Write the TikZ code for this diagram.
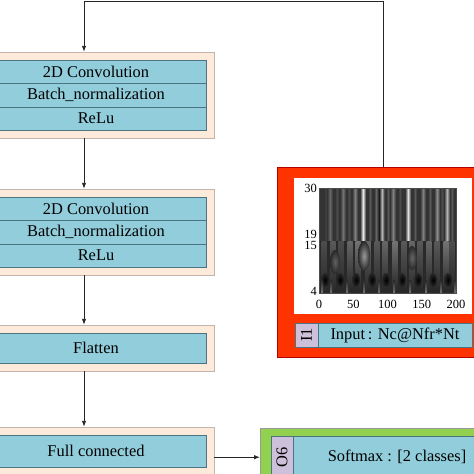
\documentclass[tikz,border=0pt]{standalone}
\usepackage{fontspec}
\setmainfont{Liberation Serif}
\usetikzlibrary{arrows.meta, positioning, fit, backgrounds}

\definecolor{peach}{HTML}{FDEADA}
\definecolor{peachline}{HTML}{C4B6AC}
\definecolor{cellblue}{HTML}{92CDDC}
\definecolor{cellline}{HTML}{4C7480}
\definecolor{lilac}{HTML}{CCC0DA}
\definecolor{inred}{HTML}{FF3300}
\definecolor{outgreen}{HTML}{92D050}

\begin{document}
\begin{tikzpicture}[
    x=1pt, y=-1pt,
    layer/.style={rectangle, draw=cellline, fill=cellblue, minimum width=220pt, minimum height=23.4pt, inner sep=0pt, outer sep=0pt, font=\fontsize{16.4}{18}\selectfont},
    block/.style={rectangle, draw=peachline, fill=peach, inner sep=8pt},
    tag/.style={rectangle, draw=cellline, fill=lilac, inner sep=0pt, outer sep=0pt, font=\fontsize{16.4}{18}\selectfont},
    axlab/.style={inner sep=0pt, font=\fontsize{12.5}{14}\selectfont},
    link/.style={-{Latex[length=6pt, width=4.5pt]}, black!85, line width=0.9pt},
]
\useasboundingbox (0,0) rectangle (474,474);
\clip (0,0) rectangle (474,474);

% Layers on the left
\node[layer] (conv1a) at (96,71.7) {2D Convolution};
\node[layer, below=0pt of conv1a] (conv1b) {Batch\_normalization};
\node[layer, below=0pt of conv1b] (conv1c) {ReLu};

\node[layer] (conv2a) at (96,208.7) {2D Convolution};
\node[layer, below=0pt of conv2a] (conv2b) {Batch\_normalization};
\node[layer, below=0pt of conv2b] (conv2c) {ReLu};

\node[layer, minimum height=30pt] (flat) at (96,348) {Flatten};
\node[layer, minimum height=32pt] (fc) at (96,451) {Full connected};

\begin{scope}[on background layer]
\node[block, fit=(conv1a)(conv1c)] (blk1) {};
\node[block, fit=(conv2a)(conv2c)] (blk2) {};
\node[block, fit=(flat)] (blk3) {};
\node[block, fit=(fc)] (blk4) {};
\end{scope}

% Input frame
\node[rectangle, draw=red!70!black, fill=inred, minimum width=212pt, minimum height=190pt] (input) at (383,262) {};
\node[rectangle, fill=white, minimum width=178pt, minimum height=136pt] (panel) at (383,246) {};
\node[tag, minimum width=23pt, minimum height=24pt] (tagin) at (306.5,335) {\rotatebox{90}{I1}};
\node[layer, minimum width=154pt, minimum height=24pt, anchor=west] (inrow) at (tagin.east) {Input\,: Nc@Nfr*Nt};

% Spectrogram
\fill[black!80] (319,188) rectangle (456,241);
\foreach \x/\g/\w in {326/25/2, 330/40/3, 337/30/2, 343/45/3, 349/30/2, 355/50/3, 363/92/3, 370/35/2,
                      376/40/2, 382/72/2.5, 388/35/2, 393/50/3, 400/30/2, 408/88/3, 415/35/2,
                      423/50/3, 430/35/2, 437/55/3, 442/30/2, 447/70/3, 452/35/2}
  \shade[left color=black!80, right color=black!80, middle color=white!\g!black] (\x-\w,188) rectangle (\x+\w,241);
\fill[black!84] (319,241) rectangle (456,293);
\foreach \x/\g in {324/30, 333/35, 341/30, 350/40, 358/45, 368/40, 377/35, 385/40, 395/45,
                   404/35, 412/40, 420/35, 429/40, 437/35, 446/45, 452/30}
  \shade[top color=white!\g!black, bottom color=black!84] (\x-2.5,241) rectangle (\x+2.5,290);
\shade[inner color=white!60!black, outer color=black!84] (364,256) ellipse (6 and 15);
\shade[inner color=white!40!black, outer color=black!84] (412,258) ellipse (5 and 12);
\shade[inner color=white!38!black, outer color=black!84] (335,262) ellipse (5 and 12);
\foreach \x in {325, 340, 356, 372, 386, 402, 418, 433, 448}
  \shade[inner color=black, outer color=black!84] (\x,280) ellipse (4 and 7);
\foreach \x in {322, 331, 347, 364, 379, 394, 410, 426, 441, 455}
  \shade[top color=black!84, bottom color=white!45!black] (\x-1,280) rectangle (\x+1,293);
\draw[black!70, line width=0.5pt] (319,188) rectangle (456,293);

% Axis labels
\foreach \v in {0,50,100,150,200}
  \node[axlab, anchor=north] (tx\v) at (319+0.685*\v,300) {\v};
\foreach \v/\y in {30/188, 19/234, 15/245, 4/291}
  \node[axlab, anchor=east] (ty\v) at (317,\y) {\v};

% Output frame
\node[rectangle, draw=black!40, fill=outgreen, minimum width=252pt, minimum height=58pt, anchor=north west] (output) at (260,428) {};
\node[tag, minimum width=22pt, minimum height=42pt, anchor=north west] (tagout) at (271,436) {\rotatebox{90}{O6}};
\node[layer, minimum width=208pt, minimum height=42pt, anchor=west] (outrow) at (tagout.east) {Softmax : [2 classes]};

% Arrows
\coordinate (turn) at (84,1);
\draw[link] (input.north) |- (turn) -- (turn |- blk1.north);
\draw[link] ([xshift=-12pt]blk1.south) -- ([xshift=-12pt]blk2.north);
\draw[link] ([xshift=-12pt]blk2.south) -- ([xshift=-12pt]blk3.north);
\draw[link] ([xshift=-12pt]blk3.south) -- ([xshift=-12pt]blk4.north);
\draw[link] (output.west -| blk4.east) -- (output.west);

\end{tikzpicture}
\end{document}
